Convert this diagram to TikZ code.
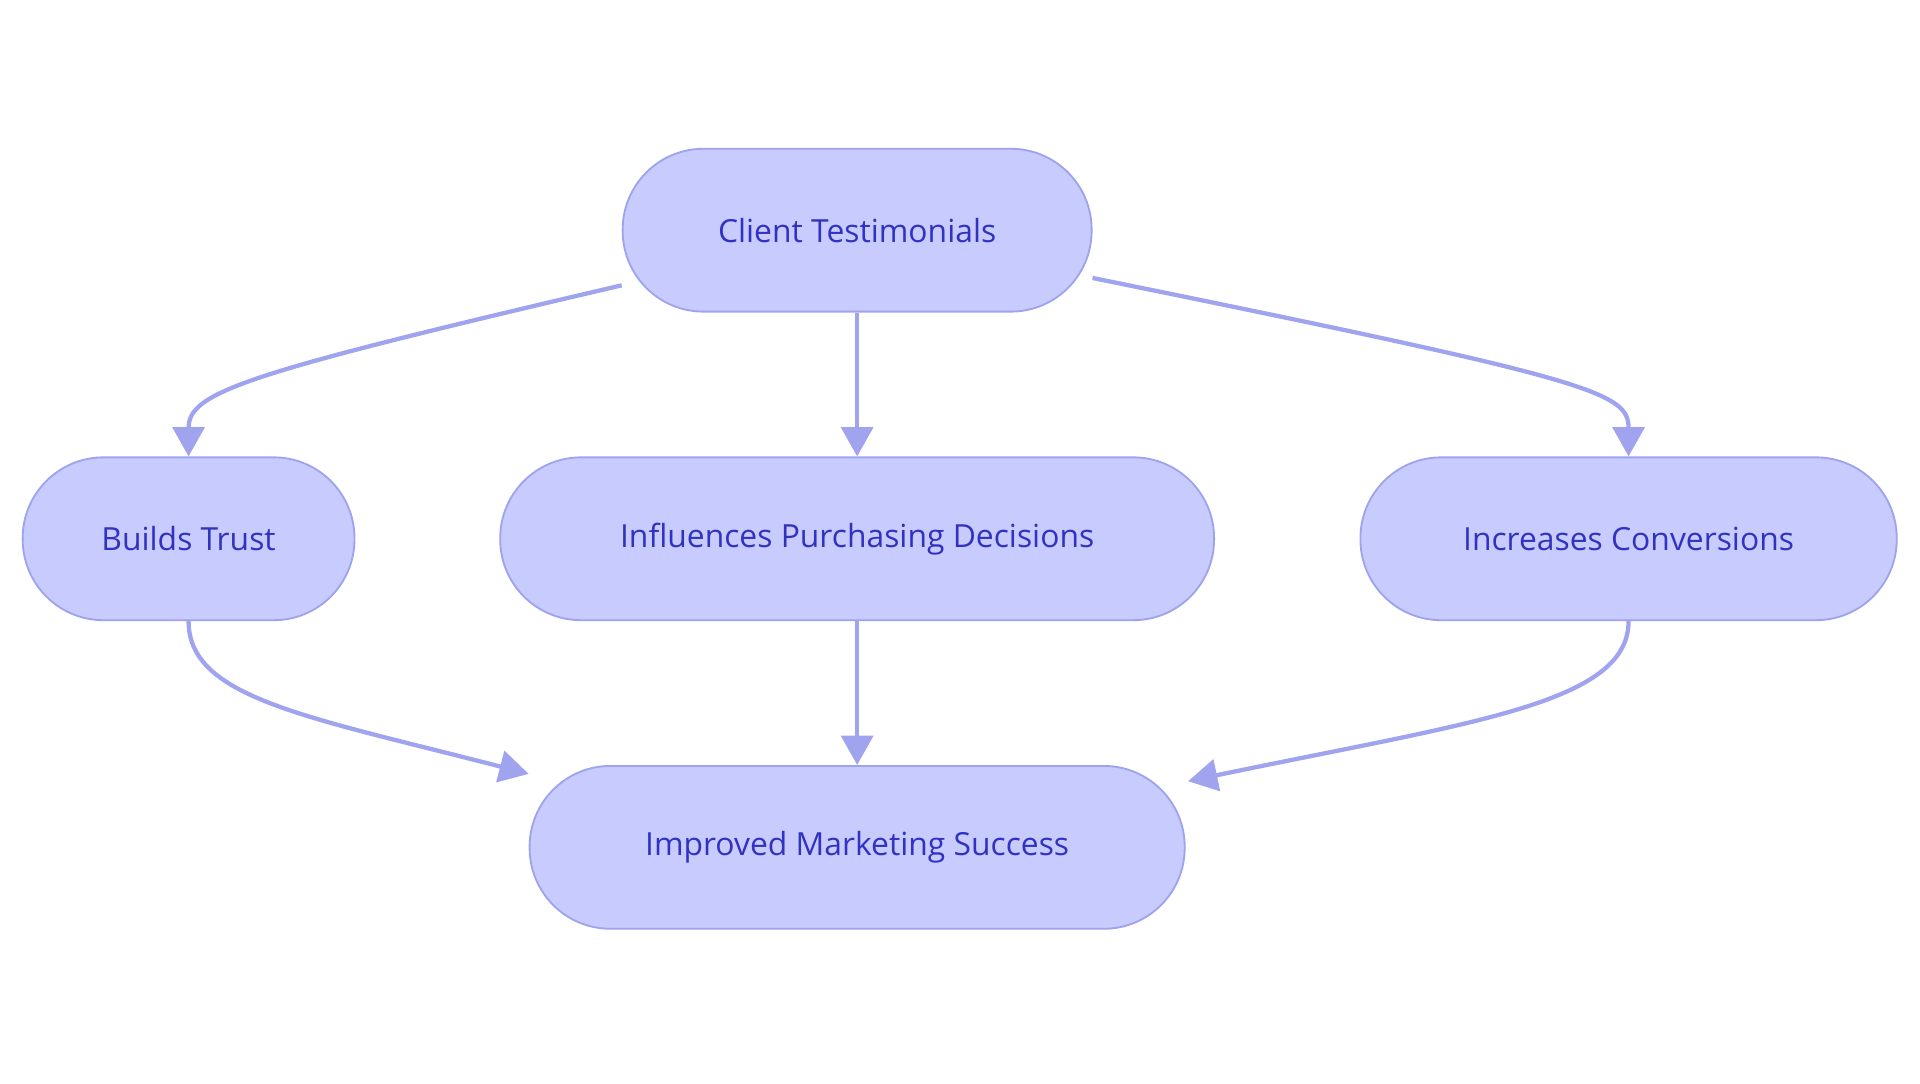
\documentclass[tikz,border=0pt]{standalone}
\usepackage{fontspec}
\setmainfont{Open Sans}
\usetikzlibrary{arrows.meta,calc}
\definecolor{nfill}{HTML}{C8CBFE}
\definecolor{nborder}{HTML}{9EA3EE}
\definecolor{ntext}{HTML}{3232C0}
\definecolor{edge}{HTML}{A0A4EE}
\begin{document}
\begin{tikzpicture}[x=1pt,y=-1pt,
  box/.style={draw=nborder,fill=nfill,line width=1.5pt,rounded corners=66pt,minimum height=133pt,text=ntext,font=\fontsize{26}{30}\selectfont,inner sep=0pt},
  conn/.style={draw=edge,line width=3.5pt,-{Triangle[length=24pt,width=26pt]}}]
\useasboundingbox (0,0) rectangle (1568,885);
\node[box,minimum width=383pt] (cl) at (700,188) {Client Testimonials};
\node[box,minimum width=271pt] (bt) at (154,440) {Builds Trust};
\node[box,minimum width=583pt] (ip) at (700,440) {Influences Purchasing Decisions};
\node[box,minimum width=438pt] (ic) at (1330,440) {Increases Conversions};
\node[box,minimum width=535pt] (im) at (700,692) {Improved Marketing Success};
\coordinate (c1) at ($(cl.west)+(0,45)$);
\coordinate (c2) at ($(cl.east)+(0,39)$);
\coordinate (m1) at ($(im.west)+(0,-60)$);
\coordinate (m2) at ($(im.east)+(2,-54)$);
\draw[conn] (c1) .. controls (200,305) and (154,320) .. (bt.north);
\draw[conn] (c2) .. controls (1300,310) and (1330,320) .. (ic.north);
\draw[conn] (cl.south) -- (ip.north);
\draw[conn] (ip.south) -- (im.north);
\draw[conn] (bt.south) .. controls (154,570) and (250,585) .. (m1);
\draw[conn] (ic.south) .. controls (1330,575) and (1200,590) .. (m2);
\end{tikzpicture}
\end{document}
